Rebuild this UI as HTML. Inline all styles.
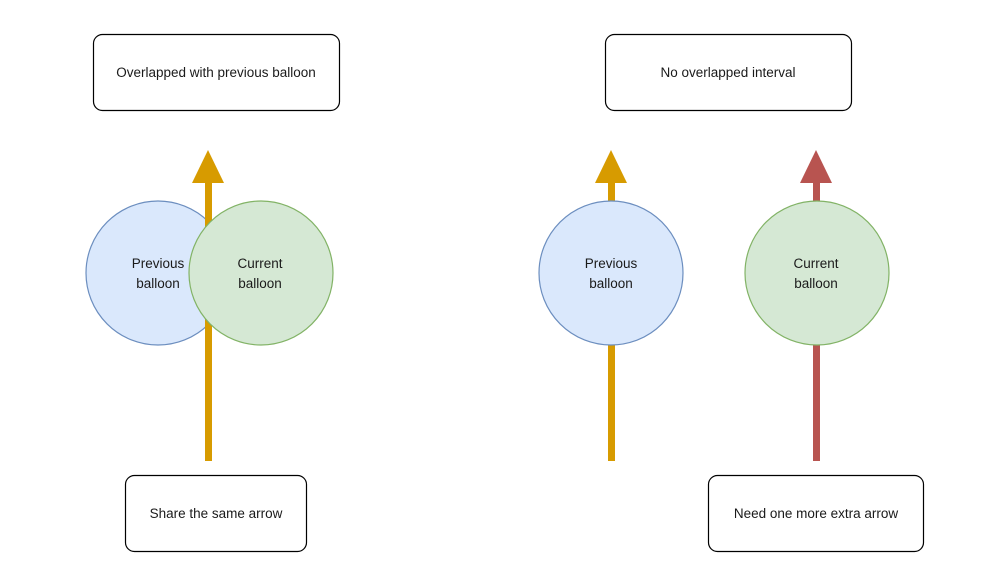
<!DOCTYPE html>
<html><head><style>body{margin:0;background:#fff}</style></head><body>
<svg width="1000" height="569" xmlns="http://www.w3.org/2000/svg" font-family="Liberation Sans, sans-serif" font-size="13.5" fill="#1a1a1a">
<rect width="1000" height="569" fill="#fff"/>
<g stroke="#000" stroke-width="1.2" fill="#fff">
<rect x="93.5" y="34.5" width="246" height="76" rx="9"/>
<rect x="605.5" y="34.5" width="246" height="76" rx="9"/>
<rect x="125.5" y="475.5" width="181" height="76" rx="9"/>
<rect x="708.5" y="475.5" width="215" height="76" rx="9"/>
</g>
<g text-anchor="middle" fill="#1a1a1a">
<text x="216" y="77">Overlapped with previous balloon</text>
<text x="728" y="77">No overlapped interval</text>
<text x="216" y="518">Share the same arrow</text>
<text x="816" y="518">Need one more extra arrow</text>
</g>
<circle cx="158" cy="273" r="72" fill="#dae8fc" stroke="#6c8ebf" stroke-width="1.2"/>
<rect x="205" y="180" width="7" height="281" fill="#d79b00"/>
<polygon points="208,150 224,183 192,183" fill="#d79b00"/>
<circle cx="261" cy="273" r="72" fill="#d5e8d4" stroke="#82b366" stroke-width="1.2"/>
<rect x="608" y="180" width="7" height="281" fill="#d79b00"/>
<polygon points="611,150 627,183 595,183" fill="#d79b00"/>
<rect x="813" y="180" width="7" height="281" fill="#b85450"/>
<polygon points="816,150 832,183 800,183" fill="#b85450"/>
<circle cx="611" cy="273" r="72" fill="#dae8fc" stroke="#6c8ebf" stroke-width="1.2"/>
<circle cx="817" cy="273" r="72" fill="#d5e8d4" stroke="#82b366" stroke-width="1.2"/>
<g text-anchor="middle">
<text x="158" y="268">Previous</text><text x="158" y="288">balloon</text>
<text x="260" y="268">Current</text><text x="260" y="288">balloon</text>
<text x="611" y="268">Previous</text><text x="611" y="288">balloon</text>
<text x="816" y="268">Current</text><text x="816" y="288">balloon</text>
</g>
</svg>
</body></html>
